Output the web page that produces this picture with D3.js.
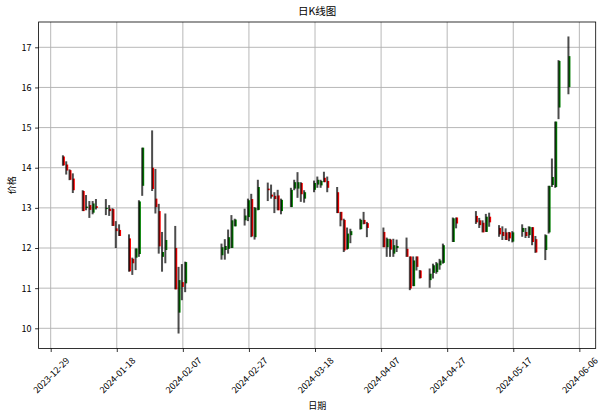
<!DOCTYPE html>
<html>
<head>
<meta charset="utf-8">
<script src="https://cdn.jsdelivr.net/npm/d3@7"></script>
<style>
  body { margin: 0; background: #fff; }
  text { font-family: "Noto Sans CJK SC", "DejaVu Sans", sans-serif; }
</style>
</head>
<body>
<div id="chart"></div>
<script>
// trading days and OHLC
const dates = [
  '2024-01-02','2024-01-03','2024-01-04','2024-01-05','2024-01-08','2024-01-09','2024-01-10','2024-01-11','2024-01-12',
  '2024-01-15','2024-01-16','2024-01-17','2024-01-18','2024-01-19','2024-01-22','2024-01-23','2024-01-24','2024-01-25',
  '2024-01-26','2024-01-29','2024-01-30','2024-01-31','2024-02-01','2024-02-02','2024-02-05','2024-02-06','2024-02-07',
  '2024-02-08','2024-02-19','2024-02-20','2024-02-21','2024-02-22','2024-02-23','2024-02-26','2024-02-27','2024-02-28',
  '2024-02-29','2024-03-01','2024-03-04','2024-03-05','2024-03-06','2024-03-07','2024-03-08','2024-03-11','2024-03-12',
  '2024-03-13','2024-03-14','2024-03-15','2024-03-18','2024-03-19','2024-03-20','2024-03-21','2024-03-22','2024-03-25',
  '2024-03-26','2024-03-27','2024-03-28','2024-03-29','2024-04-01','2024-04-02','2024-04-03','2024-04-08','2024-04-09',
  '2024-04-10','2024-04-11','2024-04-12','2024-04-15','2024-04-16','2024-04-17','2024-04-18','2024-04-19','2024-04-22',
  '2024-04-23','2024-04-24','2024-04-25','2024-04-26','2024-04-29','2024-04-30','2024-05-06','2024-05-07','2024-05-08',
  '2024-05-09','2024-05-10','2024-05-13','2024-05-14','2024-05-15','2024-05-16','2024-05-17','2024-05-20','2024-05-21',
  '2024-05-22','2024-05-23','2024-05-24','2024-05-27','2024-05-28','2024-05-29','2024-05-30','2024-05-31','2024-06-03'
];
const open = [
  14.28,14.08,13.94,13.73,13.42,13.00,13.07,12.88,13.04,
  12.97,12.98,12.97,12.49,12.45,12.24,11.73,11.76,11.85,
  13.55,14.00,13.23,12.92,11.78,11.95,12.00,10.39,11.15,
  11.12,11.82,11.95,11.98,12.00,12.54,12.69,12.77,13.22,
  12.27,12.95,13.48,13.33,13.30,13.31,12.92,13.02,13.48,
  13.48,13.62,13.23,13.45,13.58,13.56,13.75,13.67,13.39,
  12.90,12.70,11.98,12.32,12.47,12.70,12.62,12.40,12.02,
  12.21,11.86,12.00,11.98,11.79,11.05,11.79,11.44,11.20,
  11.38,11.40,11.57,11.63,12.15,12.76,12.80,12.69,12.63,
  12.40,12.78,12.50,12.40,12.39,12.39,12.16,12.40,12.40,
  12.32,12.52,12.22,11.95,12.39,13.57,13.52,15.50,16.01
];
const high = [
  14.31,14.16,13.96,13.86,13.44,13.32,13.17,13.17,13.22,
  13.22,13.07,12.99,12.67,12.59,12.34,11.76,11.99,13.19,
  14.50,14.93,13.97,13.10,12.40,12.86,12.55,11.53,11.60,
  11.66,12.11,12.22,12.46,12.82,12.73,12.98,13.23,13.35,
  13.02,13.70,13.63,13.58,13.39,13.45,13.23,13.50,13.70,
  13.89,13.64,13.44,13.68,13.78,13.70,13.90,13.78,13.52,
  12.90,12.73,12.51,12.48,12.73,12.90,12.65,12.51,12.26,
  12.23,12.23,12.21,12.26,11.79,11.79,11.79,11.45,11.49,
  11.61,11.65,11.73,12.11,12.76,12.76,12.92,12.75,12.69,
  12.85,12.88,12.57,12.54,12.49,12.40,12.42,12.59,12.50,
  12.54,12.52,12.30,12.34,13.55,14.23,15.15,16.68,17.27
];
const low = [
  14.05,13.83,13.69,13.37,12.92,12.94,12.75,12.84,12.96,
  12.82,12.80,12.55,12.00,12.30,11.41,11.33,11.45,11.78,
  13.30,13.42,12.86,11.86,11.41,11.62,10.97,9.87,10.70,
  10.90,11.71,11.71,11.86,12.00,12.54,12.56,12.67,12.27,
  12.21,12.94,13.17,13.23,12.87,12.94,12.84,13.02,13.44,
  13.25,13.15,13.13,13.39,13.50,13.50,13.64,13.39,12.87,
  12.54,11.90,11.96,12.12,12.46,12.59,12.27,12.02,11.78,
  11.78,11.78,11.90,11.78,10.95,11.05,11.44,11.24,11.01,
  11.24,11.36,11.46,11.61,12.15,12.49,12.60,12.50,12.39,
  12.40,12.53,12.28,12.20,12.20,12.17,12.14,12.28,12.25,
  12.25,12.07,11.88,11.70,12.36,13.52,13.50,15.21,15.83
];
const close = [
  14.06,13.93,13.70,13.44,12.92,13.03,12.95,13.11,13.00,
  13.00,12.92,12.55,12.42,12.30,11.42,11.62,11.99,13.16,
  14.50,13.47,13.02,12.04,11.90,12.20,10.97,11.20,11.03,
  11.65,12.02,12.05,12.27,12.69,12.71,12.81,13.19,12.29,
  13.00,13.52,13.44,13.28,13.22,12.94,13.20,13.45,13.64,
  13.64,13.34,13.39,13.62,13.70,13.67,13.64,13.50,12.87,
  12.69,11.94,12.36,12.42,12.70,12.60,12.50,12.02,12.23,
  11.96,12.07,12.05,11.78,10.99,11.69,11.53,11.25,11.36,
  11.57,11.62,11.69,12.07,12.74,12.61,12.64,12.57,12.39,
  12.78,12.64,12.34,12.30,12.20,12.24,12.39,12.50,12.30,
  12.53,12.15,11.89,12.32,13.55,13.77,15.15,16.66,16.78
];
const xTicks = ['2023-12-29','2024-01-18','2024-02-07','2024-02-27','2024-03-18','2024-04-07','2024-04-27','2024-05-17','2024-06-06'];
const yTicks = [10, 11, 12, 13, 14, 15, 16, 17];

const width = 606, height = 417;
const margin = { top: 22, right: 10, bottom: 69, left: 38.6 };
const plotW = 595.7 - margin.left;
const plotH = 348.5 - margin.top;

const parse = d3.utcParse('%Y-%m-%d');
const day = 864e5;
const rows = dates.map((d, i) => ({ date: parse(d), o: open[i], h: high[i], l: low[i], c: close[i] }));

const x = d3.scaleUtc()
  .domain([new Date(parse('2023-12-29').getTime() - 3.66 * day), new Date(parse('2023-12-29').getTime() + 164.95 * day)])
  .range([0, plotW]);
const y = d3.scaleLinear()
  .domain([10 - (348.5 - 328.3) / 40.14, 17 + (47.3 - 22) / 40.14])
  .range([plotH, 0]);

const svg = d3.select('#chart').append('svg')
  .attr('width', width)
  .attr('height', height);

const g = svg.append('g').attr('transform', `translate(${margin.left},${margin.top})`);

// grid
g.append('g').selectAll('line')
  .data(xTicks.map(parse))
  .enter().append('line')
  .attr('x1', d => x(d)).attr('x2', d => x(d))
  .attr('y1', 0).attr('y2', plotH)
  .attr('stroke', '#b0b0b0').attr('stroke-width', 0.9);
g.append('g').selectAll('line')
  .data(yTicks)
  .enter().append('line')
  .attr('x1', 0).attr('x2', plotW)
  .attr('y1', d => y(d)).attr('y2', d => y(d))
  .attr('stroke', '#b0b0b0').attr('stroke-width', 0.9);

// candles: body first, wick over it with alpha
const candle = g.append('g').selectAll('g')
  .data(rows)
  .enter().append('g');

candle.append('rect')
  .attr('x', d => x(d.date) - 1)
  .attr('width', 2)
  .attr('y', d => y(Math.max(d.o, d.c)))
  .attr('height', d => Math.max(0.8, Math.abs(y(d.o) - y(d.c))))
  .attr('fill', d => d.c >= d.o ? '#008000' : '#ff0000');

candle.append('rect')
  .attr('x', d => x(d.date) - 2)
  .attr('width', 2)
  .attr('y', d => y(d.h))
  .attr('height', d => y(d.l) - y(d.h))
  .attr('fill', '#000')
  .attr('fill-opacity', 0.7);

// axes
const xAxis = g.append('g')
  .attr('transform', `translate(0,${plotH})`)
  .call(d3.axisBottom(x).tickValues(xTicks.map(parse)).tickSize(3.5).tickPadding(3.5).tickFormat(d3.utcFormat('%Y-%m-%d')));
xAxis.select('.domain').remove();
xAxis.selectAll('text')
  .attr('font-size', 9)
  .attr('fill', '#000')
  .each(function() {
    const t = d3.select(this);
    const len = this.getComputedTextLength();
    const h = (len + 9) * Math.SQRT1_2;
    t.attr('y', null).attr('dy', null)
      .attr('text-anchor', 'middle')
      .attr('dominant-baseline', 'central')
      .attr('transform', `translate(0,${7 + h / 2}) rotate(-45)`);
  });

const yAxis = g.append('g')
  .call(d3.axisLeft(y).tickValues(yTicks).tickSize(3.5).tickPadding(3.5).tickFormat(d3.format('d')));
yAxis.select('.domain').remove();
yAxis.selectAll('text').attr('font-size', 9).attr('fill', '#000');

g.selectAll('.tick line').attr('stroke', '#000').attr('stroke-width', 0.8);

// frame
g.append('rect')
  .attr('width', plotW).attr('height', plotH)
  .attr('fill', 'none').attr('stroke', '#000').attr('stroke-width', 0.8);

// labels
svg.append('text')
  .attr('x', margin.left + plotW / 2).attr('y', 15)
  .attr('text-anchor', 'middle')
  .attr('font-size', 10.5)
  .text('日K线图');

svg.append('text')
  .attr('x', margin.left + plotW / 2).attr('y', 409)
  .attr('text-anchor', 'middle')
  .attr('font-size', 9)
  .text('日期');

svg.append('text')
  .attr('transform', `translate(15,${margin.top + plotH / 2}) rotate(-90)`)
  .attr('text-anchor', 'middle')
  .attr('font-size', 9)
  .text('价格');
</script>
</body>
</html>
